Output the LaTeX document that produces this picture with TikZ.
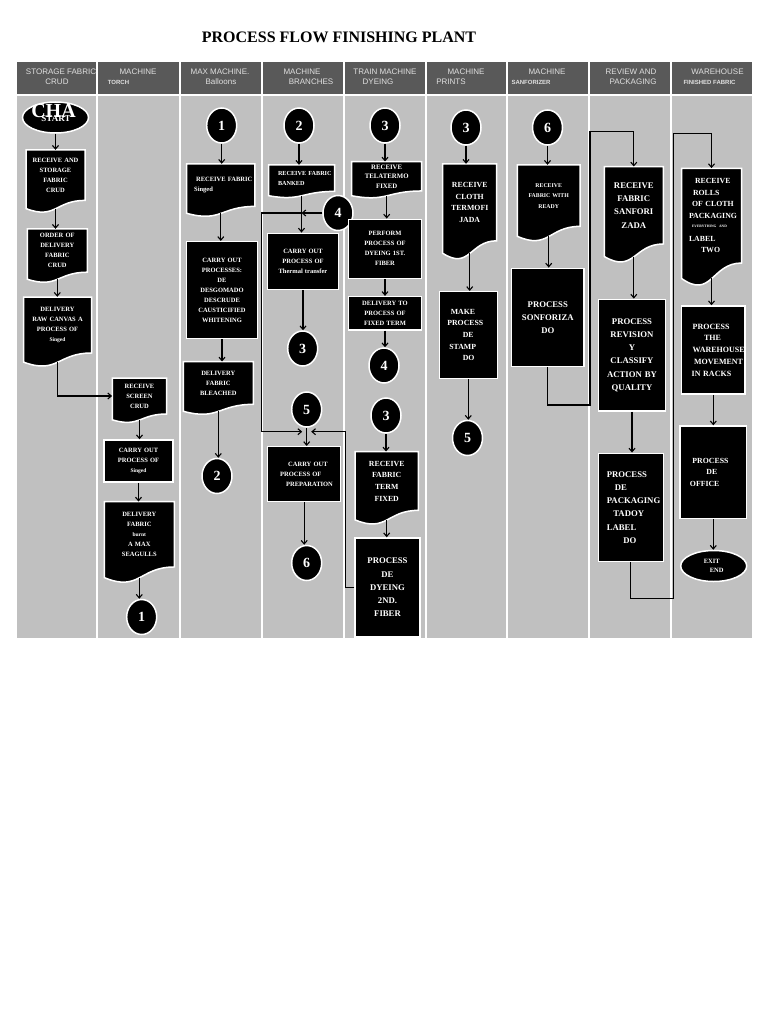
\documentclass[tikz,border=0pt]{standalone}
\usepackage{fontspec}
\setmainfont{Liberation Serif}
\setsansfont{Liberation Sans}
\usetikzlibrary{shapes.geometric,arrows.meta}
\hyphenpenalty=10000
\exhyphenpenalty=10000

\definecolor{headgray}{RGB}{89,89,89}
\definecolor{lanegray}{RGB}{192,192,192}
\definecolor{headtext}{RGB}{224,224,224}

\tikzset{
  box/.style={draw=white,line width=1.5pt,fill=black,text=white,align=center,inner sep=1.5pt,font=\bfseries\fontsize{6.5}{10}\selectfont},
  doctext/.style={text=white,align=center,inner sep=1.5pt,font=\bfseries\fontsize{6.5}{10}\selectfont},
  docline/.style={draw=white,line width=1.5pt,fill=black},
  big/.style={font=\bfseries\fontsize{8.7}{13.2}\selectfont},
  mid/.style={font=\bfseries\fontsize{7.8}{11.7}\selectfont},
  conn/.style={ellipse,draw=white,line width=1.5pt,fill=black,text=white,inner sep=0pt,minimum width=30pt,minimum height=35pt,font=\bfseries\fontsize{14}{14}\selectfont},
  term/.style={ellipse,draw=white,line width=1.5pt,fill=black,text=white,inner sep=0pt,minimum width=66pt,minimum height=31pt,align=left,font=\bfseries\fontsize{6.5}{9.5}\selectfont},
  flow/.style={-{Straight Barb[length=3.5pt,width=6pt]},line width=1.1pt,black},
  head/.style={text=headtext,font=\sffamily\fontsize{8}{9}\selectfont,inner sep=0pt},
  headsmall/.style={text=headtext,font=\sffamily\bfseries\fontsize{6}{7}\selectfont,inner sep=0pt}
}

% document shape: style, name, centre x, top y, width, height, text
\newcommand{\docbox}[7][]{%
  \filldraw[docline] ({#3-#5/2},#4) -- ({#3+#5/2},#4) -- ({#3+#5/2},{#4+0.8*#6})
    .. controls (#3,{#4+0.8*#6}) and (#3,{#4+1.11*#6}) .. ({#3-#5/2},{#4+0.93*#6}) -- cycle;
  \pgfmathsetmacro{\docw}{#5-3}\pgfmathsetmacro{\doch}{0.8*#6}
  \node[doctext,#1,text width=\docw pt,minimum height=\doch pt] (#2) at (#3,{#4+0.4*#6}) {#7};
  \coordinate (#2-b) at (#3,{#4+0.93*#6});
}

\begin{document}
\begin{tikzpicture}[x=1pt,y=-1pt]
\fill[white] (0,0) rectangle (768,1024);
\useasboundingbox (0,0) rectangle (768,1024);

\node[font=\bfseries\fontsize{16}{16}\selectfont] (title) at (339,37) {PROCESS FLOW FINISHING PLANT};

%%%%%%%%%%%%% lanes
\fill[headgray] (17,62) rectangle (752,94);
\fill[lanegray] (17,96) rectangle (752,638);
\foreach \x in {97,180,262,344,426,507,589,671} \draw[white,line width=1.2pt] (\x,62) -- (\x,638);

\node[head] (h1a) at (61,71.5) {STORAGE FABRIC};\node[head] (h1b) at (57,82) {CRUD};
\node[head] (h2a) at (138,71.5) {MACHINE};\node[headsmall,anchor=west] (h2b) at (107.7,82) {TORCH};
\node[head] (h3a) at (220,71.5) {MAX MACHINE.};\node[head] (h3b) at (221,82) {Balloons};
\node[head] (h4a) at (302,71.5) {MACHINE};\node[head] (h4b) at (311,82) {BRANCHES};
\node[head] (h5a) at (385,71.5) {TRAIN MACHINE};\node[head] (h5b) at (378,82) {DYEING};
\node[head] (h6a) at (466,71.5) {MACHINE};\node[head] (h6b) at (451,82) {PRINTS};
\node[head] (h7a) at (547,71.5) {MACHINE};\node[headsmall] (h7b) at (531,82) {SANFORIZER};
\node[head] (h8a) at (631,71.5) {REVIEW AND};\node[head] (h8b) at (633,82) {PACKAGING};
\node[head] (h9a) at (717.5,71.5) {WAREHOUSE};\node[headsmall] (h9b) at (709.5,82) {FINISHED FABRIC};

%%%%%%%%%%%%% storage fabric crud
\node[term] (start) at (55.5,117.5) {};
\node[text=white,font=\bfseries\fontsize{9}{9}\selectfont] (startlbl) at (56,118.5) {START};
\node[text=white,font=\bfseries\fontsize{20}{20}\selectfont] (cha) at (53.5,110.5) {CHA};
\docbox{d1}{55.5}{150}{59}{63}{RECEIVE AND\\STORAGE\\FABRIC\\CRUD}
\docbox{d2}{57.3}{229}{60}{54}{ORDER OF\\DELIVERY\\FABRIC\\CRUD}
\docbox{d3}{57.5}{297}{68}{70}{DELIVERY\\RAW CANVAS A\\PROCESS OF\\{\fontsize{5.5}{8}\selectfont Singed}}
\draw[flow] (start.south) -- (start.south |- d1.north);\draw[flow] (d1-b) -- (d1-b |- d2.north);
\draw[flow] (d2-b) -- (d2-b |- d3.north);

%%%%%%%%%%%%% machine torch
\docbox{rs}{139.5}{378}{54.4}{45}{RECEIVE\\SCREEN\\CRUD}
\node[box,text width=66pt,minimum height=42pt] (c1) at (138.5,461) {CARRY OUT\\PROCESS OF\\{\fontsize{5.5}{8}\selectfont Singed}};
\docbox{d4}{139.3}{501.7}{70}{81.6}{DELIVERY\\FABRIC\\{\fontsize{5.5}{8}\selectfont burnt}\\A MAX\\SEAGULLS}
\node[conn] (k1) at (141.7,617) {1};
\draw[flow] (d3-b) |- (rs.west);
\draw[flow] (rs-b) -- (rs-b |- c1.north);\draw[flow] (c1.south) -- (c1.south |- d4.north);
\draw[flow] (d4-b) -- (d4-b |- k1.north);

%%%%%%%%%%%%% max machine balloons
\node[conn] (k1b) at (221.7,125.5) {1};
\docbox[align=left]{d5}{220.8}{164}{68.3}{53}{\hspace*{8pt}RECEIVE FABRIC\\\hspace*{6pt}Singed}
\node[box,text width=67.6pt,minimum height=96.6pt] (r3) at (222,290) {CARRY OUT\\PROCESSES:\\DE\\DESGOMADO\\DESCRUDE\\CAUSTICIFIED\\WHITENING};
\docbox{d6}{218.3}{361.7}{70}{53.3}{DELIVERY\\FABRIC\\BLEACHED}
\node[conn] (k2) at (217,476) {2};
\draw[flow] (k1b.south) -- (k1b.south |- d5.north);\draw[flow] (d5-b) -- (d5-b |- r3.north);
\draw[flow] (r3.south) -- (r3.south |- d6.north);\draw[flow] (d6-b) -- (d6-b |- k2.north);

%%%%%%%%%%%%% machine branches
\node[conn] (k2b) at (299,125.5) {2};
\docbox[align=left,font=\bfseries\fontsize{6.2}{10}\selectfont]{d7}{301.5}{165}{66}{33}{\hspace*{8pt}RECEIVE FABRIC\\\hspace*{8pt}BANKED}
\node[conn] (k4) at (338,213) {4};
\node[box,text width=67.6pt,minimum height=56pt] (r4) at (303,261.3) {CARRY OUT\\PROCESS OF\\Thermal transfer};
\node[conn] (k3) at (302.7,348.5) {3};
\node[conn] (k5) at (306.7,409.5) {5};
\node[box,align=left,text width=70pt,minimum height=55pt] (r5) at (304.2,474.2) {\hspace*{19pt}CARRY OUT\\\hspace*{11pt}PROCESS OF\\\hspace*{17pt}PREPARATION};
\node[conn] (k6) at (306.7,563) {6};
\coordinate (j4) at (d7-b |- k4.west);\coordinate (lane4) at (261.7,213);
\coordinate (j5) at (306.7,431.7);\coordinate (lane5) at (345.7,431.7);
\draw[flow] (k2b.south) -- (k2b.south |- d7.north);\draw[flow] (d7-b) -- (d7-b |- r4.north);
\draw[flow] (k4.west) -- (j4);
\draw[flow,shorten >=4.5pt] (j4) -- (lane4) |- (j5);
\draw[flow] (r4.south) -- (r4.south |- k3.north);
\draw[flow] (k5.south) -- (k5.south |- r5.north);
\draw[flow] (r5.south) -- (r5.south |- k6.north);

%%%%%%%%%%%%% train machine dyeing
\node[conn] (k3b) at (385,125.5) {3};
\docbox[font=\bfseries\fontsize{6.8}{9.5}\selectfont]{d8}{386.7}{161.7}{70}{36.6}{RECEIVE\\TELATERMO\\FIXED}
\node[box,text width=70.4pt,minimum height=59pt] (r6) at (385,248.8) {PERFORM\\PROCESS OF\\DYEING 1ST.\\FIBER};
\node[box,text width=70.4pt,minimum height=33.3pt] (r7) at (385,313.3) {DELIVERY TO\\PROCESS OF\\FIXED TERM};
\node[conn] (k4b) at (384,365.5) {4};
\node[conn] (k3c) at (386,415.5) {3};
\docbox[mid]{d9}{386.7}{451.7}{63.3}{73.3}{RECEIVE\\FABRIC\\TERM\\FIXED}
\node[box,big,text width=62pt,minimum height=99pt] (r8) at (387.5,587.5) {PROCESS\\DE\\DYEING\\2ND.\\FIBER};
\draw[flow] (k3b.south) -- (k3b.south |- d8.north);\draw[flow] (d8-b) -- (d8-b |- r6.north);
\draw[flow] (r6.south) -- (r6.south |- r7.north);\draw[flow] (r7.south) -- (r7.south |- k4b.north);
\draw[flow] (k3c.south) -- (k3c.south |- d9.north);\draw[flow] (d9-b) -- (d9-b |- r8.north);
\draw[flow,shorten >=4.5pt] (r8.west) -| (lane5) -- (j5);

%%%%%%%%%%%%% machine prints
\node[conn] (k3d) at (466,127.5) {3};
\docbox[mid]{d10}{469.7}{164}{54}{96}{RECEIVE\\CLOTH\\TERMOFI\\JADA}
\node[box,mid,align=left,text width=55pt,minimum height=86.6pt] (r9) at (468.3,335) {\hspace*{10pt}MAKE\\\hspace*{6.5pt}PROCESS\\\hspace*{22pt}DE\\\hspace*{8.5pt}STAMP\\\hspace*{22pt}DO};
\node[conn] (k5b) at (467.5,438) {5};
\draw[flow] (k3d.south) -- (k3d.south |- d10.north);\draw[flow] (d10-b) -- (d10-b |- r9.north);
\draw[flow] (r9.south) -- (r9.south |- k5b.north);

%%%%%%%%%%%%% machine sanforizer
\node[conn] (k6b) at (547.5,127.5) {6};
\docbox[font=\bfseries\fontsize{5.8}{10.5}\selectfont]{d11}{548.7}{165}{62.7}{76.7}{RECEIVE\\FABRIC WITH\\READY}
\node[box,big,text width=69.3pt,minimum height=98.4pt] (r10) at (547.8,317.5) {PROCESS\\SONFORIZA\\DO};
\draw[flow] (k6b.south) -- (k6b.south |- d11.north);\draw[flow] (d11-b) -- (d11-b |- r10.north);

%%%%%%%%%%%%% review and packaging
\docbox[big]{d12}{633.8}{166.7}{59}{96.6}{RECEIVE\\FABRIC\\SANFORI\\ZADA}
\node[box,big,text width=64.4pt,minimum height=111.7pt] (r11) at (632,355.2) {PROCESS\\REVISION\\Y\\CLASSIFY\\ACTION BY\\QUALITY};
\node[box,big,align=left,text width=62pt,minimum height=108.4pt] (r12) at (630.8,507.5) {\hspace*{7pt}PROCESS\\\hspace*{15pt}DE\\\hspace*{7pt}PACKAGING\\\hspace*{13.5pt}TADOY\\\hspace*{7pt}LABEL\\\hspace*{23.5pt}DO};
\coordinate (lane7a) at (590,405);\coordinate (lane7b) at (590,131.7);
\draw[flow] (r10.south) |- (lane7a) -- (lane7b) -| (d12.north);
\draw[flow] (d12-b) -- (d12-b |- r11.north);\draw[flow] (r11.south) -- (r11.south |- r12.north);

%%%%%%%%%%%%% warehouse finished fabric
\docbox[mid,align=left]{d13}{711.5}{168.3}{60}{118.4}{\hspace*{12pt}RECEIVE\\\hspace*{10pt}ROLLS\\\hspace*{9pt}OF CLOTH\\\hspace*{6pt}PACKAGING\\[-3pt]\hspace*{9pt}{\fontsize{3.6}{4}\selectfont EVERYTHING AND}\\[2pt]\hspace*{6pt}LABEL\\\hspace*{18pt}TWO}
\node[box,align=left,font=\bfseries\fontsize{8}{11.7}\selectfont,text width=60.3pt,minimum height=88pt] (r13) at (713.3,350) {\hspace*{9.5pt}PROCESS\\\hspace*{21pt}THE\\\hspace*{9.5pt}\mbox{WAREHOUSE}\\\hspace*{11pt}\mbox{MOVEMENT}\\\hspace*{8.5pt}IN RACKS};
\node[box,mid,align=left,text width=63.7pt,minimum height=92.3pt] (r14) at (713.3,472.2) {\hspace*{11pt}PROCESS\\\hspace*{25pt}DE\\\hspace*{8.5pt}OFFICE};
\node[term] (exit) at (713.7,566) {EXIT\\\hspace*{6pt}END};
\coordinate (lane8a) at (673.5,598.3);\coordinate (lane8b) at (673.5,133.3);
\draw[flow] (r12.south) |- (lane8a) -- (lane8b) -| (d13.north);
\draw[flow] (d13-b) -- (d13-b |- r13.north);\draw[flow] (r13.south) -- (r13.south |- r14.north);
\draw[flow] (r14.south) -- (r14.south |- exit.north);

\end{tikzpicture}
\end{document}
